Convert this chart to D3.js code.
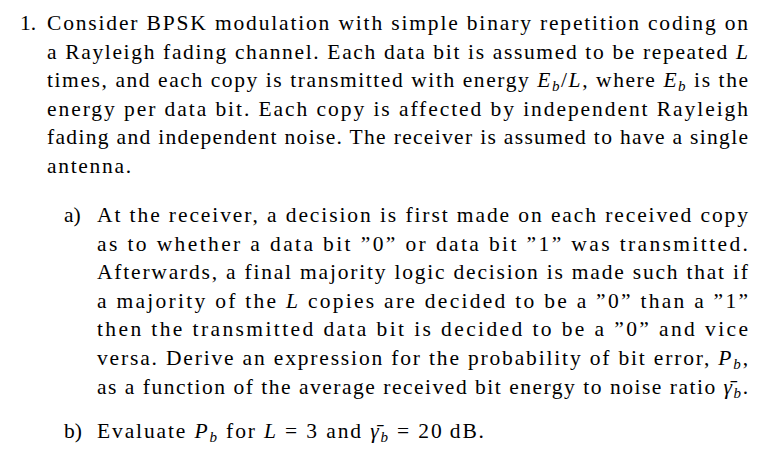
<!DOCTYPE html>
<html><head><meta charset="utf-8">
<script src="https://cdn.jsdelivr.net/npm/d3@7"></script>
<style>body{margin:0;background:#fff}</style>
</head><body>
<svg id="page" width="766" height="451"></svg>
<script>
// each line: list of segments [text, kind]; kind: "" roman, "i" italic, "s" italic subscript
const introLines = [
  [["Consider BPSK modulation with simple binary repetition coding on",""]],
  [["a Rayleigh fading channel. Each data bit is assumed to be repeated ",""],["L","i"]],
  [["times, and each copy is transmitted with energy ",""],["E","i"],["b","s"],["/",""],["L","i"],[", where ",""],["E","i"],["b","s"],[" is the",""]],
  [["energy per data bit. Each copy is affected by independent Rayleigh",""]],
  [["fading and independent noise. The receiver is assumed to have a single",""]],
  [["antenna.",""]]
];
const partALines = [
  [["At the receiver, a decision is first made on each received copy",""]],
  [["as to whether a data bit \u201d0\u201d or data bit \u201d1\u201d was transmitted.",""]],
  [["Afterwards, a final majority logic decision is made such that if",""]],
  [["a majority of the ",""],["L","i"],[" copies are decided to be a \u201d0\u201d than a \u201d1\u201d",""]],
  [["then the transmitted data bit is decided to be a \u201d0\u201d and vice",""]],
  [["versa. Derive an expression for the probability of bit error, ",""],["P","i"],["b","s"],[",",""]],
  [["as a function of the average received bit energy to noise ratio ",""],["\u03B3\u0304","i"],["b","s"],[".",""]]
];
const partBLines = [
  [["Evaluate ",""],["P","i"],["b","s"],[" for ",""],["L","i"],[" = 3 and ",""],["\u03B3\u0304","i"],["b","s"],[" = 20\u2009dB.",""]]
];
const labels = ["1.", "a)", "b)"];

const svg = d3.select("#page");
const font = "'Liberation Serif', serif";
const size = 21.5;
const lineY = d3.scaleLinear().domain([0, 1]).range([0, 28.6]);

function block(lines, x0, right, y0, justifyLast, label, labelX, lastWidth) {
  svg.append("text").attr("x", labelX).attr("y", y0)
    .attr("font-family", font).attr("font-size", size).text(label);
  lines.forEach((segs, i) => {
    const t = svg.append("text")
      .attr("x", x0).attr("y", y0 + lineY(i))
      .attr("font-family", font).attr("font-size", size).attr("fill", "#000");
    segs.forEach(([txt, kind], k) => {
      const prevSub = k > 0 && segs[k - 1][1] === "s";
      const ts = t.append("tspan").text(txt);
      if (kind === "i") ts.attr("font-style", "italic");
      if (kind === "s") ts.attr("font-style", "italic").attr("font-size", 15).attr("dy", 4);
      else if (prevSub) ts.attr("dy", -4);
    });
    if (justifyLast || i < lines.length - 1)
      t.attr("textLength", right - x0).attr("lengthAdjust", "spacing");
    else if (lastWidth)
      t.attr("textLength", lastWidth).attr("lengthAdjust", "spacing");
  });
}

block(introLines, 47, 748, 30, false, labels[0], 20, 84);
block(partALines, 97, 748, 222, true, labels[1], 64);
block(partBLines, 97, 748, 438, false, labels[2], 64, 387);
</script>
</body></html>
